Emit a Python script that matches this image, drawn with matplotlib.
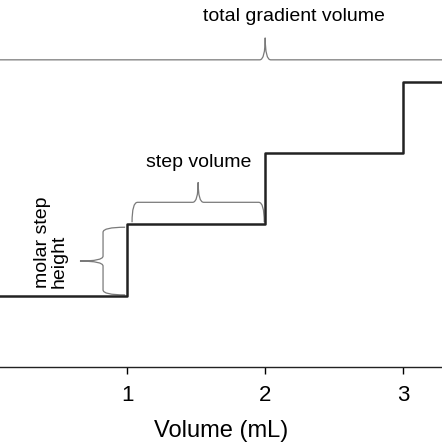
import matplotlib
matplotlib.use("Agg")
import matplotlib.pyplot as plt
from matplotlib.path import Path
from matplotlib.patches import PathPatch

plt.rcParams['font.family'] = ['Liberation Sans', 'DejaVu Sans']

# step gradient data
volumes = [0, 1, 2, 3]
levels = [1, 2, 3, 4]
xticks = [1, 2, 3]
total_volume = 4

BRACE_COLOR = "#7a7a7a"


def brace_h(ax, x0, x1, y, peak, curl, r):
    # horizontal curly brace pointing up
    xm = (x0 + x1) / 2
    verts = [(x0, y - curl), (x0, y), (x0 + r, y),
             (xm - r, y), (xm, y), (xm, y + peak),
             (xm, y), (xm + r, y),
             (x1 - r, y), (x1, y), (x1, y - curl)]
    codes = [Path.MOVETO, Path.CURVE3, Path.CURVE3,
             Path.LINETO, Path.CURVE3, Path.CURVE3,
             Path.CURVE3, Path.CURVE3,
             Path.LINETO, Path.CURVE3, Path.CURVE3]
    ax.add_patch(PathPatch(Path(verts, codes), fill=False, ec=BRACE_COLOR, lw=0.9))


def brace_v(ax, x, y0, y1, peak, curl, r):
    # vertical curly brace pointing left
    ym = (y0 + y1) / 2
    verts = [(x + curl, y0), (x, y0), (x, y0 + r),
             (x, ym - r), (x, ym), (x - peak, ym),
             (x, ym), (x, ym + r),
             (x, y1 - r), (x, y1), (x + curl, y1)]
    codes = [Path.MOVETO, Path.CURVE3, Path.CURVE3,
             Path.LINETO, Path.CURVE3, Path.CURVE3,
             Path.CURVE3, Path.CURVE3,
             Path.LINETO, Path.CURVE3, Path.CURVE3]
    ax.add_patch(PathPatch(Path(verts, codes), fill=False, ec=BRACE_COLOR, lw=0.9))


fig = plt.figure(figsize=(4.42, 4.42), dpi=100)
ax = fig.add_axes([0, 0.17, 1, 0.83])

xs = volumes + [total_volume]
ys = levels + [levels[-1]]
ax.step(xs, ys, where="post", color="#222222", lw=1.8)

ax.set_xlim(0.08, 3.28)
ax.set_ylim(0, 5.15)

# total gradient volume brace
brace_h(ax, 0 - 1, total_volume + 1, 4.31, 0.31, 0.0, 0.04)
ax.text(2.21, 4.92, "total gradient volume", ha="center", va="center", fontsize=14)

# step volume brace
brace_h(ax, volumes[1] + 0.036, volumes[2] - 0.007, levels[1] + 0.31, 0.28, 0.28, 0.04)
ax.text(1.52, 2.87, "step volume", ha="center", va="center", fontsize=14)

# molar step height brace
brace_v(ax, volumes[1] - 0.174, levels[0] + 0.01, levels[1] - 0.04, 0.167, 0.16, 0.07)
ax.text(0.45, 1.11, "molar step\nheight", rotation=90, ha="center", va="bottom",
        multialignment="left", fontsize=14, linespacing=1.0)

for s in ["top", "right", "left"]:
    ax.spines[s].set_visible(False)
ax.spines["bottom"].set_linewidth(1.0)
ax.spines["bottom"].set_color("#222222")
ax.set_yticks([])
ax.set_xticks(xticks)
ax.tick_params(axis="x", direction="out", length=5, width=1, labelsize=16, pad=8)
ax.set_xlabel("Volume (mL)", fontsize=17, labelpad=10)

fig.savefig("out.png", dpi=100)
